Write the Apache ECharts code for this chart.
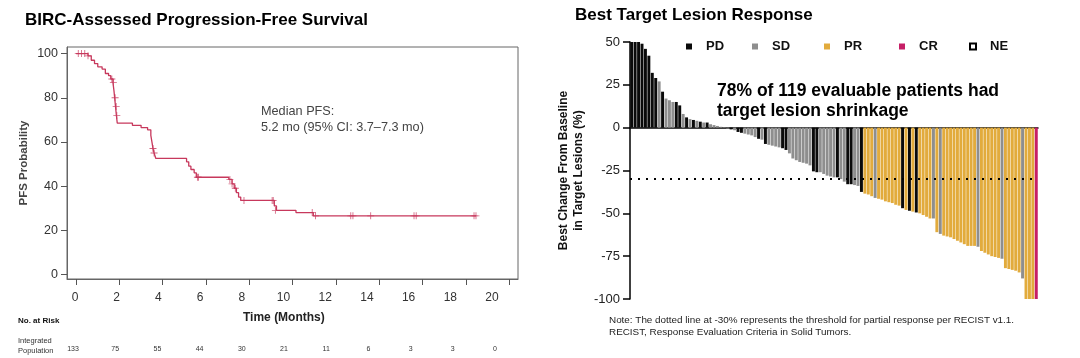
<!DOCTYPE html>
<html><head><meta charset="utf-8">
<script src="https://cdn.jsdelivr.net/npm/echarts@6/dist/echarts.min.js"></script>
<style>html,body{margin:0;padding:0;background:#fff}#c{width:1080px;height:358px}</style>
</head><body><div id="c"></div>
<script>
// ---------- Kaplan-Meier PFS (left) ----------
const kmTime = [0,0.55,0.7,0.85,1.0,1.2,1.35,1.5,1.6,1.7,1.75,1.78,1.82,1.86,1.9,2.6,3.0,3.3,3.45,3.5,3.55,3.6,3.68,5.1,5.2,5.3,5.45,5.55,7.05,7.2,7.3,7.4,7.5,7.6,9.15,9.25,10.15,10.95,18.46];
const kmSurv = [100,99,97,95.5,94,93,91,90,88.5,87,83,80,76,72,68.5,67.5,66.5,65.5,63,60,57,55,52.5,51,49,47.5,46,44,43,41,39,37,35,33.5,31,29,28,26.5,26.5];
const censorTime = [0.1,0.25,0.4,0.55,1.65,1.72,1.8,1.85,1.88,3.55,3.6,5.6,5.65,7.1,7.2,7.35,7.75,9.05,9.1,9.2,10.9,11.05,12.68,12.78,13.6,15.6,15.7,18.37,18.46];
const censorSurv = [100,100,100,99,88.5,87,80,76,72,57,55,44,44,43,41,39,33.5,33.5,33.5,29,28,26.5,26.5,26.5,26.5,26.5,26.5,26.5,26.5];
const timeTicks = [0,2,4,6,8,10,12,14,16,18,20];
const probTicks = [0,20,40,60,80,100];
const atRisk = [133,75,55,44,30,21,11,6,3,3,0];

// ---------- Waterfall (right) ----------
const respValues = [50,50,50,49,46,42,32,29,27,21,
  17,16,15,15,13,8,6,5,4.5,4,
  3.5,3,3,2,1.5,1,0.5,0.3,-0.5,-1,
  -1.5,-2.5,-3,-3.5,-4,-4.5,-5.5,-6.5,-7,-9.5,
  -10,-10.5,-11,-11.5,-12,-13,-15,-18,-19,-20,
  -20.5,-21,-22,-25.5,-26,-26,-27,-28,-28.5,-29,
  -29,-30,-31.5,-33,-33,-33.5,-34,-37.5,-38.5,-39,
  -40,-41,-41.5,-42,-43,-43.5,-44,-45,-45.5,-47,
  -48,-48.5,-49,-49.5,-50,-51,-52,-53,-53,-61,
  -62,-63,-63.5,-64,-65,-66,-67,-68,-69,-69,
  -69,-69.5,-72,-73,-74,-75,-75.5,-76,-76.5,-82,
  -82.5,-83,-83.5,-84.5,-88,-100,-100,-100,-100];
const respCats = ['PD','PD','PD','PD','PD','PD','PD','PD','SD','PD',
  'SD','SD','SD','PD','PD','SD','PD','SD','PD','SD',
  'PD','SD','PD','SD','SD','SD','SD','SD','SD','PD',
  'SD','PD','PD','SD','SD','SD','SD','PD','SD','PD',
  'SD','SD','SD','SD','PD','PD','SD','SD','SD','SD',
  'SD','SD','SD','PD','PD','SD','SD','SD','SD','SD',
  'PD','SD','SD','PD','PD','SD','SD','PD','PR','PR',
  'PR','SD','PR','PR','PR','PR','PR','PR','PR','PD',
  'PR','PD','PR','PD','PR','PR','PR','PR','SD','PR',
  'SD','PR','PR','PR','PR','PR','PR','PR','PR','PR',
  'PR','SD','PR','PR','PR','PR','PR','PR','SD','PR',
  'PR','PR','PR','PR','SD','PR','PR','PR','CR'];
const respLegend = ['PD','SD','PR','CR','NE'];
const respColors = {PD:'#0a0a0a', SD:'#8e8e8e', PR:'#e2ab3c', CR:'#c61f66', NE:'#ffffff'};

const FONT = '"Liberation Sans", Arial, Helvetica, sans-serif';
const KM = '#c7385c';
const chart = echarts.init(document.getElementById('c'));

const respSeries = respLegend.map(cat => ({
  name: cat, type: 'bar', xAxisIndex: 3, yAxisIndex: 1,
  barGap: '-100%', barCategoryGap: '14%',
  itemStyle: cat === 'NE' ? {color:'#fff', borderColor:'#000', borderWidth:1} : {color: respColors[cat]},
  data: respValues.map((v, i) => respCats[i] === cat ? v : '-'),
  markLine: cat === 'PD' ? {silent:true, symbol:'none', label:{show:false},
    lineStyle:{color:'#000', type:[2,6], width:2}, data:[{yAxis:-30}]} : undefined
}));

const legendLeft = [681, 747, 819, 894, 964];

chart.setOption({
  animation: false,
  textStyle: {fontFamily: FONT},
  grid: [
    {left: 67, top: 47, width: 451, height: 232, show: true, borderColor: '#666', borderWidth: 1, backgroundColor: 'transparent'},
    {left: 630, top: 42, width: 408, height: 257}
  ],
  legend: respLegend.map((cat, k) => ({
    data: [cat], left: legendLeft[k], top: 35, icon: 'rect', itemWidth: 6, itemHeight: 6,
    selectedMode: false,
    textStyle: {fontFamily: FONT, fontSize: 13, fontWeight: 'bold', color: '#111', padding: [0,0,0,9]}
  })),
  xAxis: [
    {gridIndex: 0, type: 'value', min: -0.42, max: 20.4,
      axisLine: {show: true, onZero: false, lineStyle: {color: '#666'}},
      axisTick: {show: true, inside: false, customValues: timeTicks, length: 6, lineStyle: {color: '#555'}},
      axisLabel: {show: false}, splitLine: {show: false}},
    {gridIndex: 0, type: 'value', min: -0.3837, max: 21.247, position: 'bottom',
      axisLine: {show: false, onZero: false}, axisTick: {show: false}, splitLine: {show: false},
      axisLabel: {customValues: timeTicks, margin: 13, fontSize: 12, color: '#333', fontFamily: FONT}},
    {gridIndex: 0, type: 'value', min: -0.2844, max: 21.09, position: 'bottom', offset: 59,
      axisLine: {show: false, onZero: false}, axisTick: {show: false}, splitLine: {show: false},
      axisLabel: {customValues: timeTicks, margin: 8, fontSize: 7, color: '#333', fontFamily: FONT,
        formatter: v => String(atRisk[timeTicks.indexOf(v)])}},
    {gridIndex: 1, type: 'category', data: respValues.map((v, i) => String(i + 1)),
      axisLine: {show: true, onZero: true, lineStyle: {color: '#000', width: 1.5}},
      axisTick: {show: false}, axisLabel: {show: false}}
  ],
  yAxis: [
    {gridIndex: 0, type: 'value', min: -2.1, max: 103,
      axisLine: {show: true, onZero: false, lineStyle: {color: '#666'}},
      axisTick: {show: true, inside: false, customValues: probTicks, length: 6, lineStyle: {color: '#555'}},
      axisLabel: {customValues: probTicks, margin: 9, fontSize: 12.5, color: '#333', fontFamily: FONT},
      splitLine: {show: false},
      name: 'PFS Probability', nameLocation: 'middle', nameGap: 37,
      nameTextStyle: {fontFamily: FONT, fontSize: 11.5, fontWeight: 'bold', color: '#444'}},
    {gridIndex: 1, type: 'value', min: -100, max: 50, interval: 25,
      axisLine: {show: true, lineStyle: {color: '#000', width: 1.5}},
      axisTick: {show: true, inside: false, length: 7, lineStyle: {color: '#000', width: 1.5}},
      axisLabel: {margin: 10, fontSize: 13, color: '#222', fontFamily: FONT},
      splitLine: {show: false},
      name: 'Best Change From Baseline\nin Target Lesions (%)', nameLocation: 'middle', nameGap: 44,
      nameTextStyle: {fontFamily: FONT, fontSize: 12, fontWeight: 'bold', color: '#111', lineHeight: 15}}
  ],
  series: [
    {type: 'line', xAxisIndex: 0, yAxisIndex: 0, step: 'end', showSymbol: false, silent: true,
      lineStyle: {color: KM, width: 1.3},
      data: kmTime.map((t, i) => [t, kmSurv[i]])},
    {type: 'scatter', xAxisIndex: 0, yAxisIndex: 0, silent: true,
      symbol: 'path://M-0.12,-1H0.12V-0.12H1V0.12H0.12V1H-0.12V0.12H-1V-0.12H-0.12Z',
      symbolSize: 7, itemStyle: {color: KM},
      data: censorTime.map((t, i) => [t, censorSurv[i]])},
    ...respSeries
  ],
  graphic: [
    {type: 'text', left: 25, top: 12, style: {text: 'BIRC-Assessed Progression-Free Survival', fontFamily: FONT, fontSize: 17, fontWeight: 'bold', fill: '#000'}},
    {type: 'text', left: 261, top: 103, style: {text: 'Median PFS:\n5.2 mo (95% CI: 3.7\u20137.3 mo)', fontFamily: FONT, fontSize: 12.7, lineHeight: 16, fill: '#444'}},
    {type: 'text', left: 243, top: 312, style: {text: 'Time (Months)', fontFamily: FONT, fontSize: 12, fontWeight: 'bold', fill: '#222'}},
    {type: 'text', left: 18, top: 317, style: {text: 'No. at Risk', fontFamily: FONT, fontSize: 8, fontWeight: 'bold', fill: '#111'}},
    {type: 'text', left: 18, top: 336, style: {text: 'Integrated\nPopulation', fontFamily: FONT, fontSize: 7.5, lineHeight: 10, fill: '#333'}},
    {type: 'text', left: 575, top: 7, style: {text: 'Best Target Lesion Response', fontFamily: FONT, fontSize: 17, fontWeight: 'bold', fill: '#000'}},
    {type: 'text', left: 717, top: 81, style: {text: '78% of 119 evaluable patients had\ntarget lesion shrinkage', fontFamily: FONT, fontSize: 17.5, fontWeight: 'bold', lineHeight: 20, fill: '#000'}},
    {type: 'text', left: 609, top: 315, style: {text: 'Note: The dotted line at -30% represents the threshold for partial response per RECIST v1.1.\nRECIST, Response Evaluation Criteria in Solid Tumors.', fontFamily: FONT, fontSize: 9.9, lineHeight: 11.5, fill: '#222'}}
  ]
});
</script>
</body></html>
